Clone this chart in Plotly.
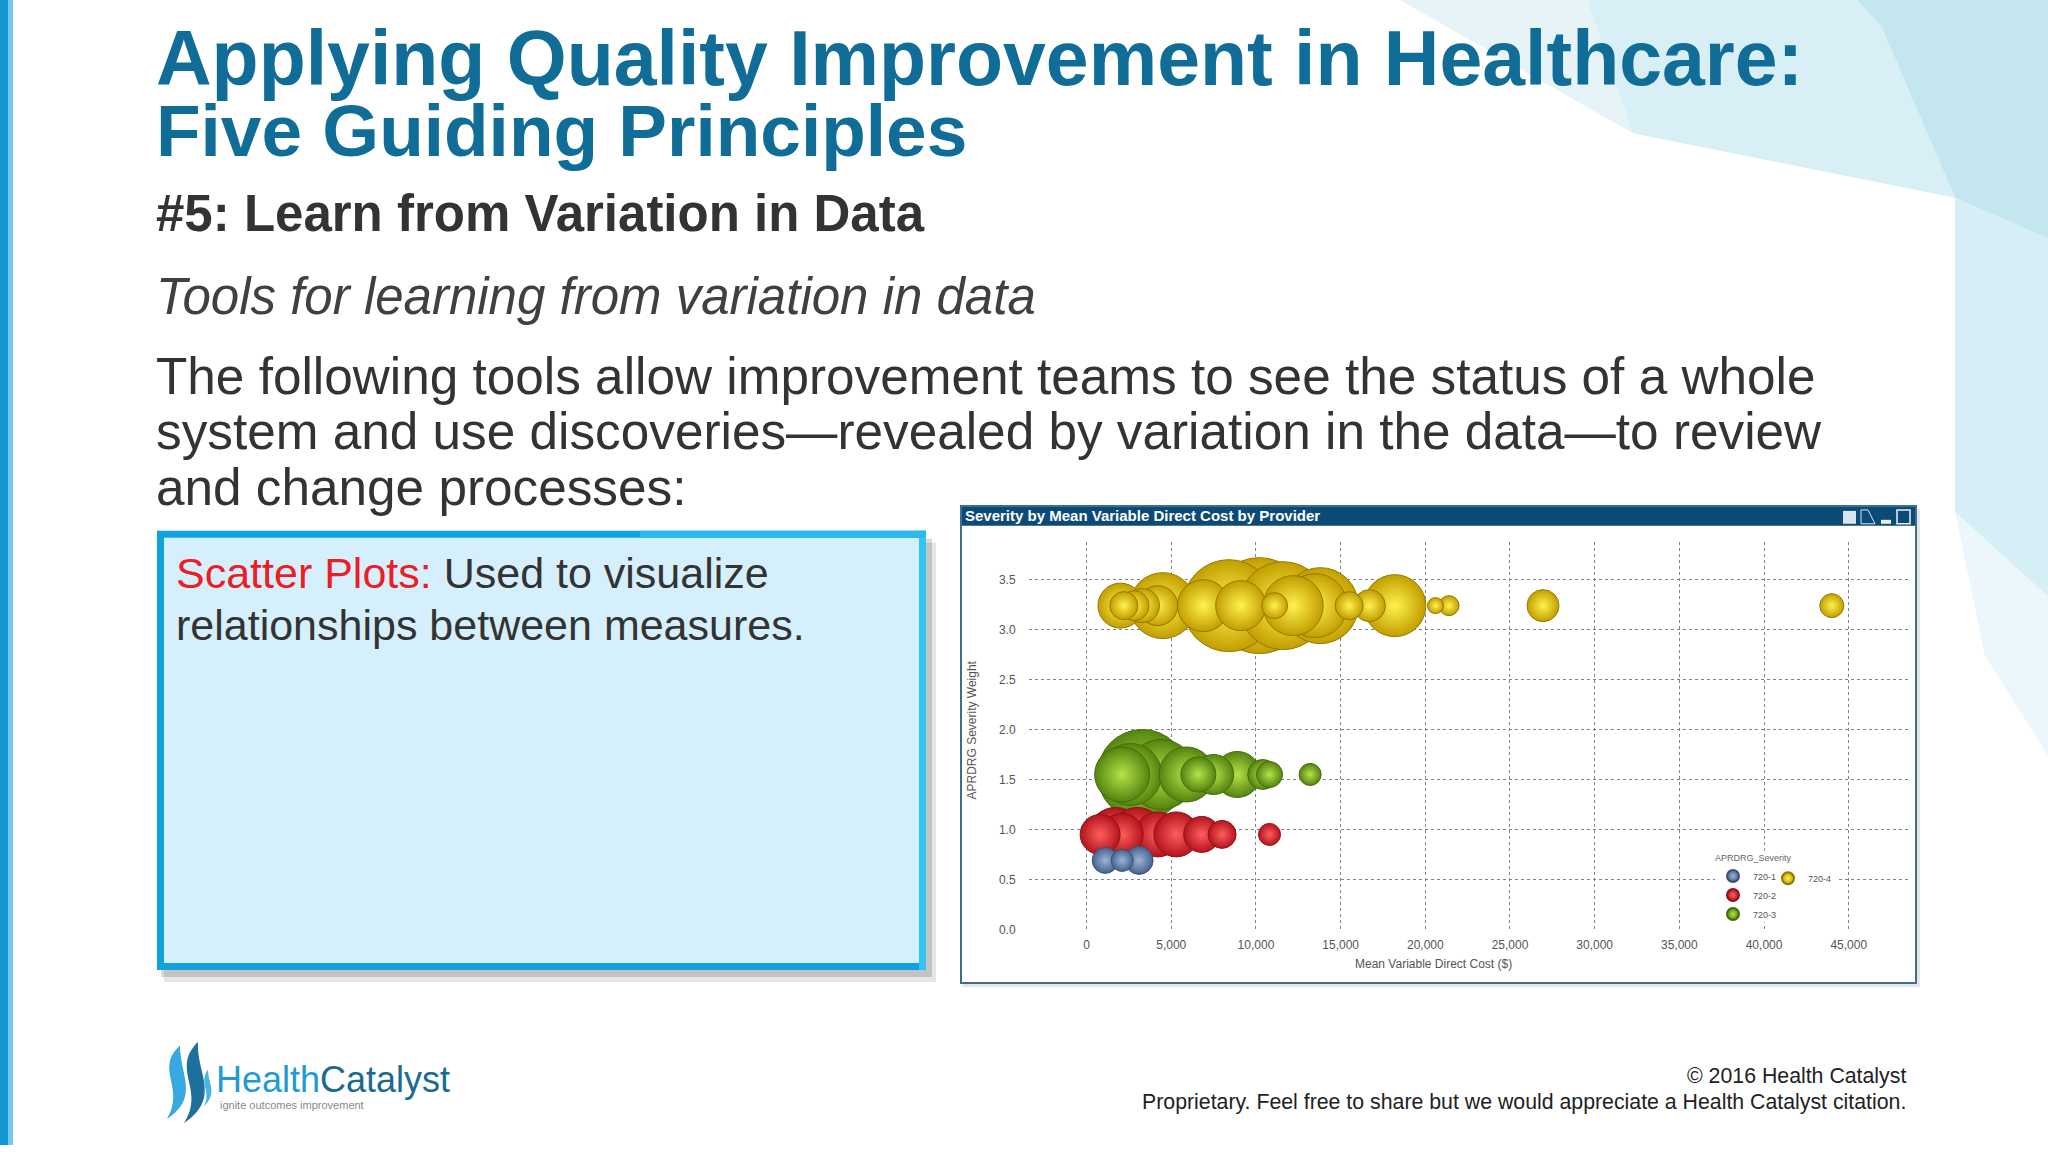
import plotly.graph_objects as go

W, H = 2048, 1152

# APRDRG 720 by severity: mean variable direct cost ($), severity weight, case volume per provider
sev1_cost = [1100, 2100, 3100]
sev1_weight = [0.69, 0.69, 0.69]
sev1_volume = [169, 121, 196]

sev2_cost = [800, 1700, 2100, 3000, 4200, 5300, 6800, 8000, 10800]
sev2_weight = [0.95] * 9
sev2_volume = [400, 729, 441, 729, 506, 506, 324, 196, 121]

sev3_cost = [2100, 2600, 3300, 4400, 5900, 6600, 7500, 8900, 10400, 10800, 13200]
sev3_weight = [1.55] * 11
sev3_volume = [756, 961, 2025, 1225, 756, 306, 400, 529, 225, 169, 121]

sev4_cost = [2000, 2200, 2800, 3300, 4200, 4500, 6900, 8400, 9100, 10200, 11100,
             11600, 12200, 13500, 13800, 15500, 16700, 18200, 20600, 21400, 26950, 44000]
sev4_weight = [3.24] * 22
sev4_volume = [506, 196, 225, 289, 400, 1089, 676, 2116, 625, 2304, 169,
               1936, 900, 1024, 1444, 196, 256, 961, 64, 100, 256, 144]

x_ticks = [0, 5000, 10000, 15000, 20000, 25000, 30000, 35000, 40000, 45000]
y_ticks = [0.0, 0.5, 1.0, 1.5, 2.0, 2.5, 3.0, 3.5]

FONT = "Liberation Sans, Arial, sans-serif"
NARROW = "Liberation Sans Narrow, Liberation Sans, Arial, sans-serif"


def px(x):
    return x / W


def py(y):
    return 1 - y / H


def path(cmds):
    out = []
    for c, pts in cmds:
        if c == "L":
            out += [f"L {px(x):.5f},{py(y):.5f}" for x, y in pts]
        else:
            out.append(c + " " + " ".join(f"{px(x):.5f},{py(y):.5f}" for x, y in pts))
    return " ".join(out) + " Z"


def poly(pts):
    return path([("M", pts[:1]), ("L", pts[1:])])


def bubbles(name, cost, weight, volume, edge, center, line, legend):
    # draw bigger bubbles first so the small ones stay visible on top
    order = sorted(range(len(cost)), key=lambda i: -volume[i])
    return go.Scatter(
        x=[cost[i] for i in order], y=[weight[i] for i in order], name=name,
        mode="markers", legend=legend,
        marker=dict(size=[volume[i] for i in order], sizemode="area", sizeref=0.5,
                    color=edge, opacity=1,
                    gradient=dict(type="radial", color=center),
                    line=dict(color=line, width=1)),
        hoverinfo="x+y+name",
    )


fig = go.Figure()
fig.add_trace(bubbles("720-4", sev4_cost, sev4_weight, sev4_volume, "#c29e00", "#fff24f", "#967800", "legend2"))
fig.add_trace(bubbles("720-3", sev3_cost, sev3_weight, sev3_volume, "#54840f", "#b6e24a", "#456c0c", "legend"))
fig.add_trace(bubbles("720-2", sev2_cost, sev2_weight, sev2_volume, "#b3151c", "#ff5e5e", "#8e111a", "legend"))
fig.add_trace(bubbles("720-1", sev1_cost, sev1_weight, sev1_volume, "#46638e", "#9cb4d5", "#385276", "legend"))

shapes = []
# light background facets, top right
facets = [
    ([(1400, 0), (1587, 0), (1633, 134)], "rgba(205,234,242,0.5)"),
    ([(1587, 0), (1857, 0), (1881, 26), (1955, 199), (1633, 134)], "rgba(212,237,244,0.9)"),
    ([(1857, 0), (2048, 0), (2048, 240), (1955, 199), (1881, 26)], "rgba(188,227,237,0.9)"),
    ([(1955, 199), (2048, 240), (2048, 600), (1955, 515)], "rgba(204,234,242,0.8)"),
    ([(1955, 515), (2048, 600), (2048, 760), (1985, 660)], "rgba(222,241,246,0.6)"),
]
for pts, col in facets:
    shapes.append(dict(type="path", xref="paper", yref="paper", layer="below",
                       path=poly(pts), fillcolor=col, line=dict(width=0)))

# left accent stripe
shapes.append(dict(type="rect", xref="paper", yref="paper", layer="below",
                   x0=px(0), x1=px(8), y0=0, y1=1, fillcolor="#1597d3", line=dict(width=0)))
shapes.append(dict(type="rect", xref="paper", yref="paper", layer="below",
                   x0=px(8), x1=px(13), y0=0, y1=1, fillcolor="#72c8ee", line=dict(width=0)))

# callout box with shadow
shapes.append(dict(type="rect", xref="paper", yref="paper", layer="below",
                   x0=px(164), x1=px(936), y0=py(988), y1=py(546),
                   fillcolor="rgba(0,0,0,0.10)", line=dict(width=0)))
shapes.append(dict(type="rect", xref="paper", yref="paper", layer="below",
                   x0=px(161), x1=px(932), y0=py(983), y1=py(542),
                   fillcolor="rgba(0,0,0,0.15)", line=dict(width=0)))
shapes.append(dict(type="rect", xref="paper", yref="paper", layer="below",
                   x0=px(160.5), x1=px(922.5), y0=py(972.5), y1=py(537.5),
                   fillcolor="#d5f0fc", line=dict(color="#0fa2df", width=7)))
shapes.append(dict(type="line", xref="paper", yref="paper", layer="below",
                   x0=px(922.5), x1=px(922.5), y0=py(976), y1=py(534),
                   line=dict(color="#34c4f4", width=7)))
shapes.append(dict(type="line", xref="paper", yref="paper", layer="below",
                   x0=px(640), x1=px(926), y0=py(537.5), y1=py(537.5),
                   line=dict(color="#2ab9ef", width=7)))

# chart panel
shapes.append(dict(type="rect", xref="paper", yref="paper", layer="below",
                   x0=px(963), x1=px(1920), y0=py(993), y1=py(512),
                   fillcolor="rgba(0,0,0,0.10)", line=dict(width=0)))
shapes.append(dict(type="rect", xref="paper", yref="paper", layer="below",
                   x0=px(961), x1=px(1916), y0=py(989), y1=py(509),
                   fillcolor="white", line=dict(color="#3d6f8c", width=2)))
shapes.append(dict(type="rect", xref="paper", yref="paper", layer="below",
                   x0=px(962), x1=px(1915), y0=py(529), y1=py(510),
                   fillcolor="#0c4a78", line=dict(width=0)))
# window icons in title bar
shapes.append(dict(type="rect", xref="paper", yref="paper",
                   x0=px(1843), x1=px(1856), y0=py(527), y1=py(514),
                   fillcolor="#d7e4ef", line=dict(width=0)))
shapes.append(dict(type="path", xref="paper", yref="paper",
                   path=poly([(1861, 513), (1868, 513), (1875, 527), (1861, 527)]),
                   fillcolor="rgba(0,0,0,0)", line=dict(color="#d7e4ef", width=1)))
shapes.append(dict(type="rect", xref="paper", yref="paper",
                   x0=px(1881), x1=px(1891), y0=py(527), y1=py(523),
                   fillcolor="#e8f0f6", line=dict(width=0)))
shapes.append(dict(type="rect", xref="paper", yref="paper",
                   x0=px(1897), x1=px(1910), y0=py(527), y1=py(513),
                   fillcolor="rgba(0,0,0,0)", line=dict(color="#e8f0f6", width=1.5)))
# legend box
shapes.append(dict(type="rect", xref="paper", yref="paper", layer="above",
                   x0=px(1715), x1=px(1836), y0=py(928), y1=py(856),
                   fillcolor="white", line=dict(width=0)))

# logo flames
flames = [
    ([(180, 1052)], [(154, 1076), (186, 1094), (167, 1126)], [(200, 1104), (180, 1082), (180, 1052)], "#36a9e1"),
    ([(198, 1048)], [(170, 1076), (206, 1096), (184, 1130)], [(222, 1104), (196, 1080), (198, 1048)], "#1d6f9c"),
    ([(208, 1076)], [(198, 1090), (212, 1098), (204, 1113)], [(218, 1100), (208, 1090), (208, 1076)], "#4ab4e4"),
]
for m, c1, c2, col in flames:
    shapes.append(dict(type="path", xref="paper", yref="paper",
                       path=path([("M", m), ("C", c1), ("C", c2)]),
                       fillcolor=col, line=dict(width=0)))


def note(text, x, y, size, color, anchor="left", **kw):
    return dict(text=text, x=px(x), y=py(y), xref="paper", yref="paper",
                xanchor=anchor, yanchor="middle", showarrow=False,
                font=dict(family=kw.pop("family", FONT), size=size, color=color), **kw)


title_col = "#0f6d98"
body_col = "#333333"
annotations = [
    note("<b>Applying Quality Improvement in Healthcare:</b>", 154, 58, 77, title_col),
    note("<b>Five Guiding Principles</b>", 154, 131, 73, title_col),
    note("<b>#5: Learn from Variation in Data</b>", 154, 215, 51, body_col),
    note("<i>Tools for learning from variation in data</i>", 154, 298, 51, "#404040"),
    note("The following tools allow improvement teams to see the status of a whole", 154, 379, 51.3, body_col),
    note("system and use discoveries\u2014revealed by variation in the data\u2014to review", 154, 434, 51.3, body_col),
    note("and change processes:", 154, 490, 51.3, body_col),
    note("<span style='color:#ee1c25'>Scatter Plots:</span> Used to visualize", 174, 576, 43, body_col),
    note("relationships between measures.", 174, 629, 43, body_col),
    note("<b>Severity by Mean Variable Direct Cost by Provider</b>", 963, 519, 15, "white"),
    note("Mean Variable Direct Cost ($)", 1433, 970, 12, "#555555", anchor="center", family=NARROW),
    note("APRDRG Severity Weight", 972, 735, 12, "#555555", anchor="center", textangle=-90),
    note("\u00a9 2016 Health Catalyst", 1908, 1083, 21.3, "#222222", anchor="right"),
    note("Proprietary. Feel free to share but we would appreciate a Health Catalyst citation.",
         1908, 1109, 21.3, "#222222", anchor="right"),
    note("<span style='color:#1e9ad6'>Health</span><span style='color:#1a6a92'>Catalyst</span>",
         214, 1086, 36, "#1e9ad6"),
    note("ignite outcomes improvement", 218, 1112, 11, "#8a8a8a"),
]

axis_font = dict(family=NARROW, size=12, color="#555555")
grid = dict(showgrid=True, gridcolor="#7d8199", griddash="dot", gridwidth=1.2,
            zeroline=False, showline=False, tickfont=axis_font)
legend_font = dict(family=NARROW, size=9, color="#555555")
fig.update_layout(
    width=W, height=H,
    margin=dict(l=0, r=0, t=0, b=0),
    paper_bgcolor="white",
    plot_bgcolor="#d7dae8",
    shapes=shapes,
    annotations=annotations,
    xaxis=dict(domain=[px(1029), px(1908)], range=[-3400, 48500],
               tickvals=x_ticks, tickformat=",d",
               ticks="outside", ticklen=4, tickcolor="rgba(0,0,0,0)", **grid),
    yaxis=dict(domain=[py(935), py(545)], range=[0, 3.88],
               tickvals=y_ticks, tickformat=".1f",
               ticks="outside", ticklen=10, tickcolor="rgba(0,0,0,0)", **grid),
    showlegend=True,
    legend=dict(x=px(1713), y=py(855), xanchor="left", yanchor="top",
                bgcolor="rgba(0,0,0,0)", borderwidth=0,
                title=dict(text="APRDRG_Severity", font=dict(family=NARROW, size=9, color="#666666")),
                font=legend_font, traceorder="reversed", itemsizing="constant",
                itemwidth=30, tracegroupgap=0),
    legend2=dict(x=px(1768), y=py(869), xanchor="left", yanchor="top",
                 bgcolor="rgba(0,0,0,0)", borderwidth=0, font=legend_font,
                 itemsizing="constant", itemwidth=30),
)

fig.write_html("out.html", config={"displayModeBar": False},
               post_script="document.body.style.margin = '0';")
